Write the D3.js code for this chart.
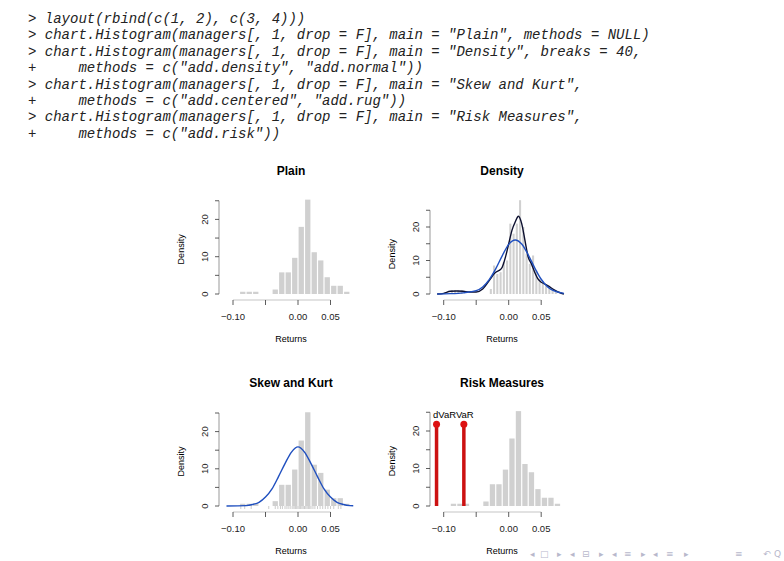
<!DOCTYPE html>
<html><head><meta charset="utf-8">
<script src="https://cdn.jsdelivr.net/npm/d3@7"></script>
<style>body{margin:0;background:#fff}</style></head>
<body><svg id="c" width="784" height="561"></svg>
<script>
const codeLines = [
 "> layout(rbind(c(1, 2), c(3, 4)))",
 "> chart.Histogram(managers[, 1, drop = F], main = \"Plain\", methods = NULL)",
 "> chart.Histogram(managers[, 1, drop = F], main = \"Density\", breaks = 40,",
 "+     methods = c(\"add.density\", \"add.normal\"))",
 "> chart.Histogram(managers[, 1, drop = F], main = \"Skew and Kurt\",",
 "+     methods = c(\"add.centered\", \"add.rug\"))",
 "> chart.Histogram(managers[, 1, drop = F], main = \"Risk Measures\",",
 "+     methods = c(\"add.risk\"))"
];
const binStarts = [-0.09,-0.08,-0.07,-0.04,-0.03,-0.02,-0.01,0.00,0.01,0.02,0.03,0.04,0.05,0.06,0.07];
const plainDens = [0.6,0.6,0.6,1.2,5.8,5.8,9.7,18.0,25.3,11.2,9.0,4.5,2.2,2.2,0.6];
const skewDens  = [0.6,0.6,0.6,1.3,5.7,5.7,9.8,17.6,25.2,11.1,8.9,4.4,2.1,2.1,0.6];
const fineStarts = [-0.09,-0.085,-0.08,-0.075,-0.03,-0.025,-0.02,-0.015,-0.01,-0.005,0.00,0.005,0.01,0.015,0.02,0.025,0.03,0.035,0.04,0.045,0.05,0.055,0.06,0.065,0.07];
const fineDens = [1.2,1.2,1.2,1.2,1.5,8.5,6.0,6.5,9.5,10.0,21.0,18.0,21.0,28.0,20.0,12.0,9.0,11.5,7.0,4.5,3.0,2.5,2.0,1.5,0.6];
const kdX = [-0.11,-0.1,-0.09,-0.08,-0.07,-0.06,-0.05,-0.04,-0.03,-0.02,-0.015,-0.01,-0.005,0,0.005,0.01,0.015,0.02,0.025,0.03,0.035,0.04,0.045,0.05,0.055,0.06,0.07,0.08,0.085];
const kdY = [0,0.2,0.8,0.9,0.8,0.6,0.6,1.5,4,6.5,7,8,11,15,19,21.5,23.2,21,16,11,9,6.5,4.5,3.5,3,2.5,1.2,0.3,0];
const normX = [-0.11,-0.09,-0.07,-0.05,-0.04,-0.03,-0.02,-0.01,0,0.01,0.02,0.03,0.04,0.05,0.06,0.07,0.085];
const normDensY = [0.02,0.1,0.35,1.0,2.1,4.3,7.5,11.4,14.8,16.1,14.9,11.7,7.8,4.4,2.1,0.9,0.2];
const skewX = [-0.11,-0.08,-0.07,-0.06,-0.05,-0.04,-0.03,-0.02,-0.01,0,0.01,0.02,0.03,0.04,0.05,0.06,0.07,0.08,0.085];
const skewY = [0.0,0.1,0.4,1.0,2.4,4.6,7.9,11.4,14.5,15.9,14.5,11.4,7.9,4.6,2.4,1.0,0.4,0.1,0.05];
const rugX = [-0.088,-0.082,-0.072,-0.045,-0.035,-0.031,-0.027,-0.024,-0.02,-0.017,-0.014,-0.011,-0.008,-0.006,-0.004,-0.002,0,0.002,0.004,0.006,0.008,0.01,0.012,0.014,0.016,0.018,0.02,0.023,0.026,0.03,0.034,0.038,0.042,0.046,0.05,0.055,0.062,0.066];
const riskNames = ["dVaR","VaR"];
const riskVals = [-0.111,-0.069];
const riskTop = 21.8;
const yTicks = [0,5,10,15,20,25];
const yLabels = [0,10,20];
const xTicks = [-0.10,-0.05,0.00,0.05];
const xLabels = [-0.10,0.00,0.05];

const svg = d3.select("#c");
const F = "Liberation Sans, Arial, sans-serif";
svg.append("g").selectAll("text").data(codeLines).join("text")
  .attr("x",28).attr("y",(d,i)=>23+i*16.4)
  .attr("font-family","Liberation Mono, Courier New, monospace").attr("font-style","italic")
  .attr("font-size",14).attr("fill","#222").attr("xml:space","preserve").text(d=>d);

function panel(o){
  const x = d3.scaleLinear().domain([0,0.05]).range([o.x0,o.x0+32.5]);
  const y = d3.scaleLinear().domain([0,20]).range([o.y0,o.y0-20*o.k]);
  const g = svg.append("g");
  g.append("text").attr("x",o.tx).attr("y",o.ty).attr("text-anchor","middle")
   .attr("font-family",F).attr("font-weight","bold").attr("font-size",12).text(o.title);
  g.selectAll("rect").data(o.starts).join("rect")
   .attr("x",d=>x(d)+0.6).attr("width",d=>x(d+o.bw)-x(d)-1.2)
   .attr("y",(d,i)=>y(o.dens[i])).attr("height",(d,i)=>y(0)-y(o.dens[i]))
   .attr("fill","#d0d0d0");
  const ax = o.ax;
  g.append("line").attr("x1",ax).attr("x2",ax).attr("y1",y(0)).attr("y2",y(25)).attr("stroke","#555").attr("stroke-width",0.6);
  yTicks.forEach(t=>g.append("line").attr("x1",ax-4).attr("x2",ax).attr("y1",y(t)).attr("y2",y(t)).attr("stroke","#333").attr("stroke-width",0.8));
  yLabels.forEach(t=>g.append("text").attr("transform",`translate(${ax-11},${y(t)}) rotate(-90)`)
    .attr("text-anchor","middle").attr("font-family",F).attr("font-size",9.5).attr("fill","#222").text(t));
  g.append("text").attr("transform",`translate(${ax-35},${(y(0)+y(25))/2+2}) rotate(-90)`)
    .attr("text-anchor","middle").attr("font-family",F).attr("font-size",9).text("Density");
  const ay = y(0)+6;
  g.append("line").attr("x1",x(-0.10)).attr("x2",x(0.05)).attr("y1",ay).attr("y2",ay).attr("stroke","#888").attr("stroke-width",0.5);
  xTicks.forEach(t=>g.append("line").attr("x1",x(t)).attr("x2",x(t)).attr("y1",ay).attr("y2",ay+5).attr("stroke","#333").attr("stroke-width",0.8));
  xLabels.forEach(t=>g.append("text").attr("x",x(t)).attr("y",ay+20).attr("text-anchor","middle")
    .attr("font-family",F).attr("font-size",9.5).attr("fill","#222").text(d3.format(".2f")(t)));
  g.append("text").attr("x",o.tx).attr("y",ay+42).attr("text-anchor","middle")
    .attr("font-family",F).attr("font-size",9).text("Returns");
  return {g,x,y};
}
const line = (x,y)=>d3.line().x(d=>x(d[0])).y(d=>y(d[1])).curve(d3.curveMonotoneX);

panel({x0:298,y0:294,k:3.73,ax:219,tx:291,ty:175,title:"Plain",starts:binStarts,dens:plainDens,bw:0.01});
const pd = panel({x0:508.7,y0:294,k:3.35,ax:430,tx:502,ty:175,title:"Density",starts:fineStarts,dens:fineDens,bw:0.005});
pd.g.append("path").attr("d",line(pd.x,pd.y)(d3.zip(kdX,kdY))).attr("fill","none").attr("stroke","#0d1030").attr("stroke-width",1.4);
pd.g.append("path").attr("d",line(pd.x,pd.y)(d3.zip(normX,normDensY))).attr("fill","none").attr("stroke","#1f4fbf").attr("stroke-width",1.4);
const ps = panel({x0:298,y0:506,k:3.72,ax:219,tx:291,ty:387,title:"Skew and Kurt",starts:binStarts,dens:skewDens,bw:0.01});
ps.g.selectAll(".rug").data(rugX).join("line").attr("x1",d=>ps.x(d)).attr("x2",d=>ps.x(d))
  .attr("y1",ps.y(0)).attr("y2",ps.y(0)+3).attr("stroke","#aaa").attr("stroke-width",0.6);
ps.g.append("path").attr("d",line(ps.x,ps.y)(d3.zip(skewX,skewY))).attr("fill","none").attr("stroke","#1f4fbf").attr("stroke-width",1.4);
const pr = panel({x0:508.7,y0:506,k:3.75,ax:430,tx:502,ty:387,title:"Risk Measures",starts:binStarts,dens:plainDens,bw:0.01});
riskVals.forEach((v,i)=>{
  pr.g.append("line").attr("x1",pr.x(v)).attr("x2",pr.x(v)).attr("y1",pr.y(0)).attr("y2",pr.y(riskTop)).attr("stroke","#cc1111").attr("stroke-width",3.5);
  pr.g.append("circle").attr("cx",pr.x(v)).attr("cy",pr.y(riskTop)).attr("r",3.5).attr("fill","#dd1111");
  pr.g.append("text").attr("x",pr.x(v)+(i?1:8)).attr("y",pr.y(riskTop)-6).attr("text-anchor","middle")
    .attr("font-family",F).attr("font-size",9.5).text(riskNames[i]);
});
const nav = ["◂","□","▸","◂","⊟","▸","◂","≡","▸","◂","≡","▸","≡","↶","Q"];
const navX = [530,540,557,570,582,599,612,624,641,653,666,684,735,763,774];
svg.selectAll(".nav").data(nav).join("text").attr("x",(d,i)=>navX[i]).attr("y",557)
  .attr("font-family","DejaVu Sans").attr("font-size",9).attr("fill","#b8b8cc").text(d=>d);
</script></body></html>
